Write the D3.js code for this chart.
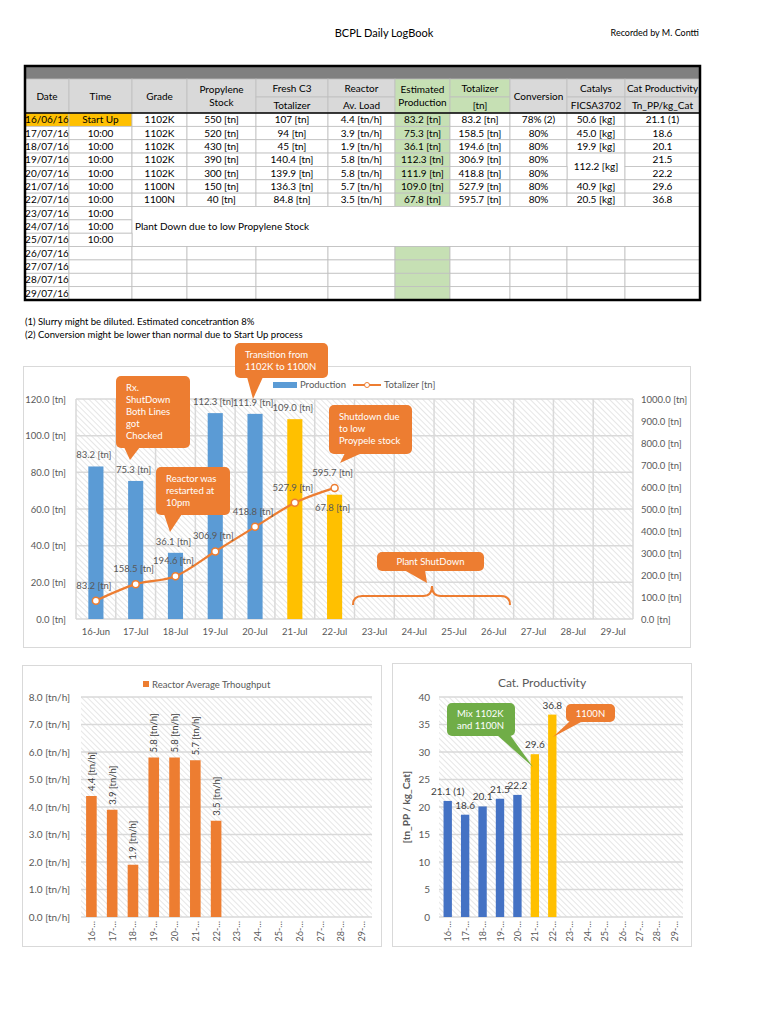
<!DOCTYPE html>
<html>
<head>
  <meta charset="utf-8">
  <title>BCPL Daily LogBook</title>
  <script src="https://d3js.org/d3.v7.min.js"></script>
  <style>
    body { margin: 0; background: #fff; }
    text { font-family: Lato, "Open Sans", sans-serif; }
  </style>
</head>
<body>
  <script>
    // ---- log book data ----
    var dates = ["16/06/16", "17/07/16", "18/07/16", "19/07/16", "20/07/16", "21/07/16", "22/07/16",
                 "23/07/16", "24/07/16", "25/07/16", "26/07/16", "27/07/16", "28/07/16", "29/07/16"];
    var times = ["Start Up", "10:00", "10:00", "10:00", "10:00", "10:00", "10:00",
                 "10:00", "10:00", "10:00", "", "", "", ""];
    var grades = ["1102K", "1102K", "1102K", "1102K", "1102K", "1100N", "1100N"];
    var stock = [550, 520, 430, 390, 300, 150, 40];
    var freshC3 = [107, 94, 45, 140.4, 139.9, 136.3, 84.8];
    var avLoad = [4.4, 3.9, 1.9, 5.8, 5.8, 5.7, 3.5];
    var production = [83.2, 75.3, 36.1, 112.3, 111.9, 109.0, 67.8];
    var totalizer = [83.2, 158.5, 194.6, 306.9, 418.8, 527.9, 595.7];
    var conversion = ["78% (2)", "80%", "80%", "80%", "80%", "80%", "80%"];
    var catalyst = [50.6, 45.0, 19.9, 112.2, null, 40.9, 20.5];
    var catProd = [21.1, 18.6, 20.1, 21.5, 22.2, 29.6, 36.8];
    var plantDownNote = "Plant Down due to low Propylene Stock";
    var notes = ["(1) Slurry might be diluted. Estimated concetrantion 8%",
                 "(2) Conversion might be lower than normal due to Start Up process"];

    // ---- chart categories and ticks ----
    var days = ["16-Jun", "17-Jul", "18-Jul", "19-Jul", "20-Jul", "21-Jul", "22-Jul",
                "23-Jul", "24-Jul", "25-Jul", "26-Jul", "27-Jul", "28-Jul", "29-Jul"];
    var shortDays = ["16-…", "17-…", "18-…", "19-…", "20-…", "21-…", "22-…",
                     "23-…", "24-…", "25-…", "26-…", "27-…", "28-…", "29-…"];
    var prodTicks = [0, 20, 40, 60, 80, 100, 120];
    var totTicks = [0, 100, 200, 300, 400, 500, 600, 700, 800, 900, 1000];
    var loadTicks = [0, 1, 2, 3, 4, 5, 6, 7, 8];
    var catTicks = [0, 5, 10, 15, 20, 25, 30, 35, 40];

    var gradeColor = { "1102K": "#5b9bd5", "1100N": "#ffc000" };
    var gradeColor3 = { "1102K": "#4472c4", "1100N": "#ffc000" };
    var orange = "#ed7d31", grey = "#595959", dark = "#404040";

    var svg = d3.select("body").append("svg")
        .attr("width", 768)
        .attr("height", 1024);
    svg.append("rect").attr("width", 768).attr("height", 1024).attr("fill", "#fff");

    // hatch fill used behind every plot
    svg.append("defs").append("pattern")
        .attr("id", "hatch")
        .attr("patternUnits", "userSpaceOnUse")
        .attr("width", 4).attr("height", 4)
        .attr("patternTransform", "rotate(-45)")
      .call(function (p) {
        p.append("rect").attr("width", 4).attr("height", 4).attr("fill", "#fff");
        p.append("line").attr("x1", 0).attr("y1", 0).attr("x2", 0).attr("y2", 4)
          .attr("stroke", "#d6d6d6").attr("stroke-width", 1.2);
      });

    // ---- title ----
    svg.append("text").attr("x", 384).attr("y", 37).attr("text-anchor", "middle")
        .attr("font-size", 11).attr("fill", "#000").text("BCPL Daily LogBook");
    svg.append("text").attr("x", 699).attr("y", 36).attr("text-anchor", "end")
        .attr("font-size", 9).attr("fill", "#000").text("Recorded by M. Contti");

    // ---- table ----
    var colX = [25, 69, 132, 187, 256, 328, 395, 450, 510, 567, 625, 700];
    var headTop = 79, headMid = 97, headBot = 113;
    var rowH = (300 - headBot) / dates.length;
    var table = svg.append("g").attr("font-size", 10);

    function cell(c0, c1, y0, y1, fill, lines, align) {
      table.append("rect")
          .attr("x", colX[c0]).attr("y", y0)
          .attr("width", colX[c1] - colX[c0]).attr("height", y1 - y0)
          .attr("fill", fill).attr("stroke", "#bfbfbf").attr("stroke-width", 0.8);
      var n = lines.length, cy = (y0 + y1) / 2;
      lines.forEach(function (t, k) {
        table.append("text")
            .attr("x", align === "start" ? colX[c0] + 3 : (colX[c0] + colX[c1]) / 2)
            .attr("y", cy + 3.5 + (k - (n - 1) / 2) * 13)
            .attr("text-anchor", align || "middle")
            .attr("fill", "#000")
            .text(t);
      });
    }

    table.append("rect").attr("x", 25).attr("y", 66).attr("width", 675).attr("height", 13).attr("fill", "#808080");
    var hGrey = "#d9d9d9", hGreen = "#c6e0b4";
    cell(0, 1, headTop, headBot, hGrey, ["Date"]);
    cell(1, 2, headTop, headBot, hGrey, ["Time"]);
    cell(2, 3, headTop, headBot, hGrey, ["Grade"]);
    cell(3, 4, headTop, headBot, hGrey, ["Propylene", "Stock"]);
    cell(4, 5, headTop, headMid, hGrey, ["Fresh C3"]);
    cell(4, 5, headMid, headBot, hGrey, ["Totalizer"]);
    cell(5, 6, headTop, headMid, hGrey, ["Reactor"]);
    cell(5, 6, headMid, headBot, hGrey, ["Av. Load"]);
    cell(6, 7, headTop, headBot, hGreen, ["Estimated", "Production"]);
    cell(7, 8, headTop, headMid, hGreen, ["Totalizer"]);
    cell(7, 8, headMid, headBot, hGreen, ["[tn]"]);
    cell(8, 9, headTop, headBot, hGrey, ["Conversion"]);
    cell(9, 10, headTop, headMid, hGrey, ["Catalys"]);
    cell(9, 10, headMid, headBot, hGrey, ["FICSA3702"]);
    cell(10, 11, headTop, headMid, hGrey, ["Cat Productivity"]);
    cell(10, 11, headMid, headBot, hGrey, ["Tn_PP/kg_Cat"]);

    dates.forEach(function (d, i) {
      var y0 = headBot + i * rowH, y1 = y0 + rowH;
      var start = i === 0 ? "#ffc000" : "#fff";
      cell(0, 1, y0, y1, start, [d]);
      cell(1, 2, y0, y1, start, [times[i]]);
      if (i >= 7 && i <= 9) {
        if (i === 8) cell(2, 11, y0 - rowH, y1 + rowH, "#fff", [plantDownNote], "start");
        return;
      }
      var has = i < grades.length;
      var vals = has ? [
        grades[i],
        stock[i] + " [tn]",
        freshC3[i] + " [tn]",
        avLoad[i].toFixed(1) + " [tn/h]",
        production[i].toFixed(1) + " [tn]",
        totalizer[i].toFixed(1) + " [tn]",
        conversion[i],
        catalyst[i] === null ? null : catalyst[i].toFixed(1) + " [kg]",
        catProd[i].toFixed(1) + (i === 0 ? " (1)" : "")
      ] : ["", "", "", "", "", "", "", "", ""];
      vals.forEach(function (v, k) {
        var c = k + 2;
        if (c === 9 && has && catalyst[i] === null) return;
        var yb = (c === 9 && has && catalyst[i + 1] === null) ? y1 + rowH : y1;
        cell(c, c + 1, y0, yb, c === 6 ? hGreen : "#fff", [v]);
      });
    });
    table.append("line").attr("x1", 25).attr("x2", 700).attr("y1", headBot).attr("y2", headBot)
        .attr("stroke", "#000").attr("stroke-width", 1.3);
    table.append("rect").attr("x", 25).attr("y", 66).attr("width", 675).attr("height", 234)
        .attr("fill", "none").attr("stroke", "#000").attr("stroke-width", 2.5);

    svg.selectAll(".note").data(notes).enter().append("text")
        .attr("class", "note")
        .attr("x", 25).attr("y", function (d, i) { return 325 + i * 13; })
        .attr("font-size", 9.5).attr("fill", "#000")
        .text(function (d) { return d; });

    // helpers
    function callout(g, box, tail, color, lines, opts) {
      opts = opts || {};
      g.append("polygon").attr("points", tail.map(function (p) { return p.join(","); }).join(" "))
          .attr("fill", color);
      g.append("rect").attr("x", box[0]).attr("y", box[1]).attr("width", box[2]).attr("height", box[3])
          .attr("rx", 5).attr("fill", color);
      lines.forEach(function (t, k) {
        g.append("text")
            .attr("x", opts.center ? box[0] + box[2] / 2 : box[0] + (opts.pad || 10))
            .attr("y", opts.y0 + k * (opts.step || 12))
            .attr("text-anchor", opts.center ? "middle" : "start")
            .attr("font-size", opts.size || 9.5).attr("fill", "#fff")
            .text(t);
      });
    }
    function styleAxis(g, size) {
      g.select(".domain").remove();
      g.selectAll("text").attr("font-size", size).attr("fill", grey)
          .attr("font-family", "Lato, 'Open Sans', sans-serif");
    }

    // ---- chart 1: production and totalizer ----
    var c1 = svg.append("g");
    c1.append("rect").attr("x", 23.5).attr("y", 366.5).attr("width", 667).attr("height", 281)
        .attr("fill", "#fff").attr("stroke", "#d9d9d9");
    var x1 = d3.scaleBand().domain(days).range([76, 633]);
    var yL = d3.scaleLinear().domain([0, 120]).range([619, 399]);
    var yR = d3.scaleLinear().domain([0, 1000]).range([619, 399]);
    var bw1 = x1.bandwidth() * 0.38;
    var cx1 = function (i) { return x1(days[i]) + x1.bandwidth() / 2; };

    c1.append("rect").attr("x", 76).attr("y", 399).attr("width", 557).attr("height", 220).attr("fill", "url(#hatch)");
    c1.selectAll(".hg").data(prodTicks).enter().append("line")
        .attr("x1", 76).attr("x2", 633).attr("y1", yL).attr("y2", yL)
        .attr("stroke", "#d9d9d9").attr("stroke-width", 1.5);
    c1.selectAll(".vg").data(days.concat(["end"])).enter().append("line")
        .attr("x1", function (d) { return d === "end" ? 633 : x1(d); })
        .attr("x2", function (d) { return d === "end" ? 633 : x1(d); })
        .attr("y1", 399).attr("y2", 619)
        .attr("stroke", "#d9d9d9").attr("stroke-width", 1.5);

    c1.append("g").attr("transform", "translate(76,0)")
        .call(d3.axisLeft(yL).tickValues(prodTicks).tickSize(0).tickPadding(10)
          .tickFormat(function (v) { return v.toFixed(1) + " [tn]"; }))
        .call(styleAxis, 9.5);
    c1.append("g").attr("transform", "translate(633,0)")
        .call(d3.axisRight(yR).tickValues(totTicks).tickSize(0).tickPadding(8)
          .tickFormat(function (v) { return v.toFixed(1) + " [tn]"; }))
        .call(styleAxis, 9.5);
    c1.append("g").attr("transform", "translate(0,619)")
        .call(d3.axisBottom(x1).tickSize(0).tickPadding(9))
        .call(styleAxis, 9.5);

    c1.selectAll(".bar").data(production).enter().append("rect")
        .attr("x", function (d, i) { return cx1(i) - bw1 / 2; })
        .attr("y", function (d) { return yL(d); })
        .attr("width", bw1)
        .attr("height", function (d) { return 619 - yL(d); })
        .attr("fill", function (d, i) { return gradeColor[grades[i]]; });

    c1.append("path").datum(totalizer)
        .attr("d", d3.line().x(function (d, i) { return cx1(i); }).y(yR).curve(d3.curveMonotoneX))
        .attr("fill", "none").attr("stroke", orange).attr("stroke-width", 2.25);
    c1.selectAll(".pt").data(totalizer).enter().append("circle")
        .attr("cx", function (d, i) { return cx1(i); }).attr("cy", yR).attr("r", 3.5)
        .attr("fill", "#fff").attr("stroke", orange).attr("stroke-width", 1.5);

    c1.selectAll(".bl").data(production).enter().append("text")
        .attr("x", function (d, i) { return cx1(i) - 2; })
        .attr("y", function (d, i) {
          var gap = yL(d) - yR(totalizer[i]);
          return gap > 0 && gap < 30 ? yL(d) + 16 : yL(d) - 8;
        })
        .attr("text-anchor", "middle").attr("font-size", 9.5).attr("fill", grey)
        .text(function (d) { return d.toFixed(1) + " [tn]"; });
    c1.selectAll(".ll").data(totalizer).enter().append("text")
        .attr("x", function (d, i) { return cx1(i) - 2; })
        .attr("y", function (d) { return yR(d) - 12; })
        .attr("text-anchor", "middle").attr("font-size", 9.5).attr("fill", grey)
        .text(function (d) { return d.toFixed(1) + " [tn]"; });

    // legend
    c1.append("rect").attr("x", 273).attr("y", 382).attr("width", 24).attr("height", 6).attr("fill", gradeColor["1102K"]);
    c1.append("text").attr("x", 300).attr("y", 388).attr("font-size", 9.5).attr("fill", grey).text("Production");
    c1.append("line").attr("x1", 353).attr("x2", 381).attr("y1", 385).attr("y2", 385)
        .attr("stroke", orange).attr("stroke-width", 2);
    c1.append("circle").attr("cx", 367).attr("cy", 385).attr("r", 2.5)
        .attr("fill", "#fff").attr("stroke", orange);
    c1.append("text").attr("x", 384).attr("y", 388).attr("font-size", 9.5).attr("fill", grey).text("Totalizer [tn]");

    // annotations
    callout(c1, [116, 376, 74, 72], [[124, 447], [140, 447], [130, 460]], orange,
        ["Rx.", "ShutDown", "Both Lines", "got", "Chocked"], { y0: 391, pad: 10 });
    callout(c1, [235, 343, 93, 35], [[247, 377], [263, 377], [253, 399]], orange,
        ["Transition from", "1102K to 1100N"], { y0: 358, pad: 10 });
    callout(c1, [156, 467, 74, 48], [[164, 514], [182, 514], [170, 532]], orange,
        ["Reactor was", "restarted at", "10pm"], { y0: 482, pad: 10 });
    callout(c1, [329, 405, 83, 49], [[345, 453], [362, 453], [340, 463]], orange,
        ["Shutdown due", "to low", "Proypele stock"], { y0: 420, pad: 10 });
    callout(c1, [377, 552, 107, 19], [[404, 570], [425, 570], [427, 583]], orange,
        ["Plant ShutDown"], { y0: 565, center: true });
    c1.append("path")
        .attr("d", "M353,605 Q353,596 362,596 L423,596 Q432,596 432,586 Q432,596 441,596 L501,596 Q510,596 510,605")
        .attr("fill", "none").attr("stroke", orange).attr("stroke-width", 2);

    // ---- chart 2: reactor average throughput ----
    var c2 = svg.append("g");
    c2.append("rect").attr("x", 22.5).attr("y", 665.5).attr("width", 359).attr("height", 281)
        .attr("fill", "#fff").attr("stroke", "#d9d9d9");
    var x2 = d3.scaleBand().domain(shortDays).range([81, 372]);
    var y2 = d3.scaleLinear().domain([0, 8]).range([917, 697]);
    var bw2 = x2.bandwidth() * 0.51;
    var cx2 = function (i) { return x2(shortDays[i]) + x2.bandwidth() / 2; };

    c2.append("rect").attr("x", 81).attr("y", 697).attr("width", 291).attr("height", 220).attr("fill", "url(#hatch)");
    c2.selectAll(".hg").data(loadTicks).enter().append("line")
        .attr("x1", 81).attr("x2", 372).attr("y1", y2).attr("y2", y2)
        .attr("stroke", "#d9d9d9").attr("stroke-width", 1.5);
    c2.append("g").attr("transform", "translate(81,0)")
        .call(d3.axisLeft(y2).tickValues(loadTicks).tickSize(0).tickPadding(11)
          .tickFormat(function (v) { return v.toFixed(1) + " [tn/h]"; }))
        .call(styleAxis, 10);
    c2.append("g").attr("transform", "translate(0,917)")
        .call(d3.axisBottom(x2).tickSize(0))
        .call(styleAxis, 9)
      .selectAll("text")
        .attr("transform", "translate(3.5,4) rotate(-90)")
        .attr("text-anchor", "end").attr("dy", 0).attr("y", 0).attr("x", 0);

    c2.selectAll(".bar").data(avLoad).enter().append("rect")
        .attr("x", function (d, i) { return cx2(i) - bw2 / 2; })
        .attr("y", y2).attr("width", bw2)
        .attr("height", function (d) { return 917 - y2(d); })
        .attr("fill", orange);
    c2.selectAll(".bl").data(avLoad).enter().append("text")
        .attr("transform", function (d, i) { return "translate(" + (cx2(i) + 3.5) + "," + (y2(d) - 5) + ") rotate(-90)"; })
        .attr("font-size", 9.5).attr("fill", dark)
        .text(function (d) { return d.toFixed(1) + " [tn/h]"; });
    c2.append("rect").attr("x", 143).attr("y", 681).attr("width", 6).attr("height", 6).attr("fill", orange);
    c2.append("text").attr("x", 152).attr("y", 687.5).attr("font-size", 9.5).attr("fill", grey)
        .text("Reactor Average Trhoughput");

    // ---- chart 3: catalyst productivity ----
    var c3 = svg.append("g");
    c3.append("rect").attr("x", 392.5).attr("y", 663.5).attr("width", 299).attr("height", 283)
        .attr("fill", "#fff").attr("stroke", "#d9d9d9");
    var x3 = d3.scaleBand().domain(shortDays).range([439, 683]);
    var y3 = d3.scaleLinear().domain([0, 40]).range([917, 697]);
    var bw3 = x3.bandwidth() * 0.48;
    var cx3 = function (i) { return x3(shortDays[i]) + x3.bandwidth() / 2; };

    c3.append("rect").attr("x", 439).attr("y", 697).attr("width", 244).attr("height", 220).attr("fill", "url(#hatch)");
    c3.selectAll(".hg").data(catTicks).enter().append("line")
        .attr("x1", 439).attr("x2", 683).attr("y1", y3).attr("y2", y3)
        .attr("stroke", "#d9d9d9").attr("stroke-width", 1.5);
    c3.append("g").attr("transform", "translate(439,0)")
        .call(d3.axisLeft(y3).tickValues(catTicks).tickSize(0).tickPadding(9))
        .call(styleAxis, 10);
    c3.append("g").attr("transform", "translate(0,917)")
        .call(d3.axisBottom(x3).tickSize(0))
        .call(styleAxis, 9)
      .selectAll("text")
        .attr("transform", "translate(3.5,4) rotate(-90)")
        .attr("text-anchor", "end").attr("dy", 0).attr("y", 0).attr("x", 0);

    c3.selectAll(".bar").data(catProd).enter().append("rect")
        .attr("x", function (d, i) { return cx3(i) - bw3 / 2; })
        .attr("y", y3).attr("width", bw3)
        .attr("height", function (d) { return 917 - y3(d); })
        .attr("fill", function (d, i) { return gradeColor3[grades[i]]; });
    c3.selectAll(".bl").data(catProd).enter().append("text")
        .attr("x", function (d, i) { return cx3(i); })
        .attr("y", function (d) { return y3(d) - 6; })
        .attr("text-anchor", "middle").attr("font-size", 10).attr("fill", dark)
        .text(function (d, i) { return d.toFixed(1) + (i === 0 ? " (1)" : ""); });

    c3.append("text").attr("x", 542).attr("y", 687).attr("text-anchor", "middle")
        .attr("font-size", 12).attr("fill", grey).text("Cat. Productivity");
    c3.append("text").attr("transform", "translate(410,807) rotate(-90)").attr("text-anchor", "middle")
        .attr("font-size", 10).attr("font-weight", "bold").attr("fill", grey).text("[tn_PP / kg_Cat]");

    callout(c3, [447, 703, 68, 33], [[497, 735], [510, 735], [533, 767]], "#70ad47",
        ["Mix 1102K", "and 1100N"], { y0: 717, pad: 10, size: 9.5 });
    callout(c3, [566, 704, 49, 18], [[570, 721], [583, 721], [553, 737]], orange,
        ["1100N"], { y0: 716.5, center: true, size: 9.5 });
  </script>
</body>
</html>
